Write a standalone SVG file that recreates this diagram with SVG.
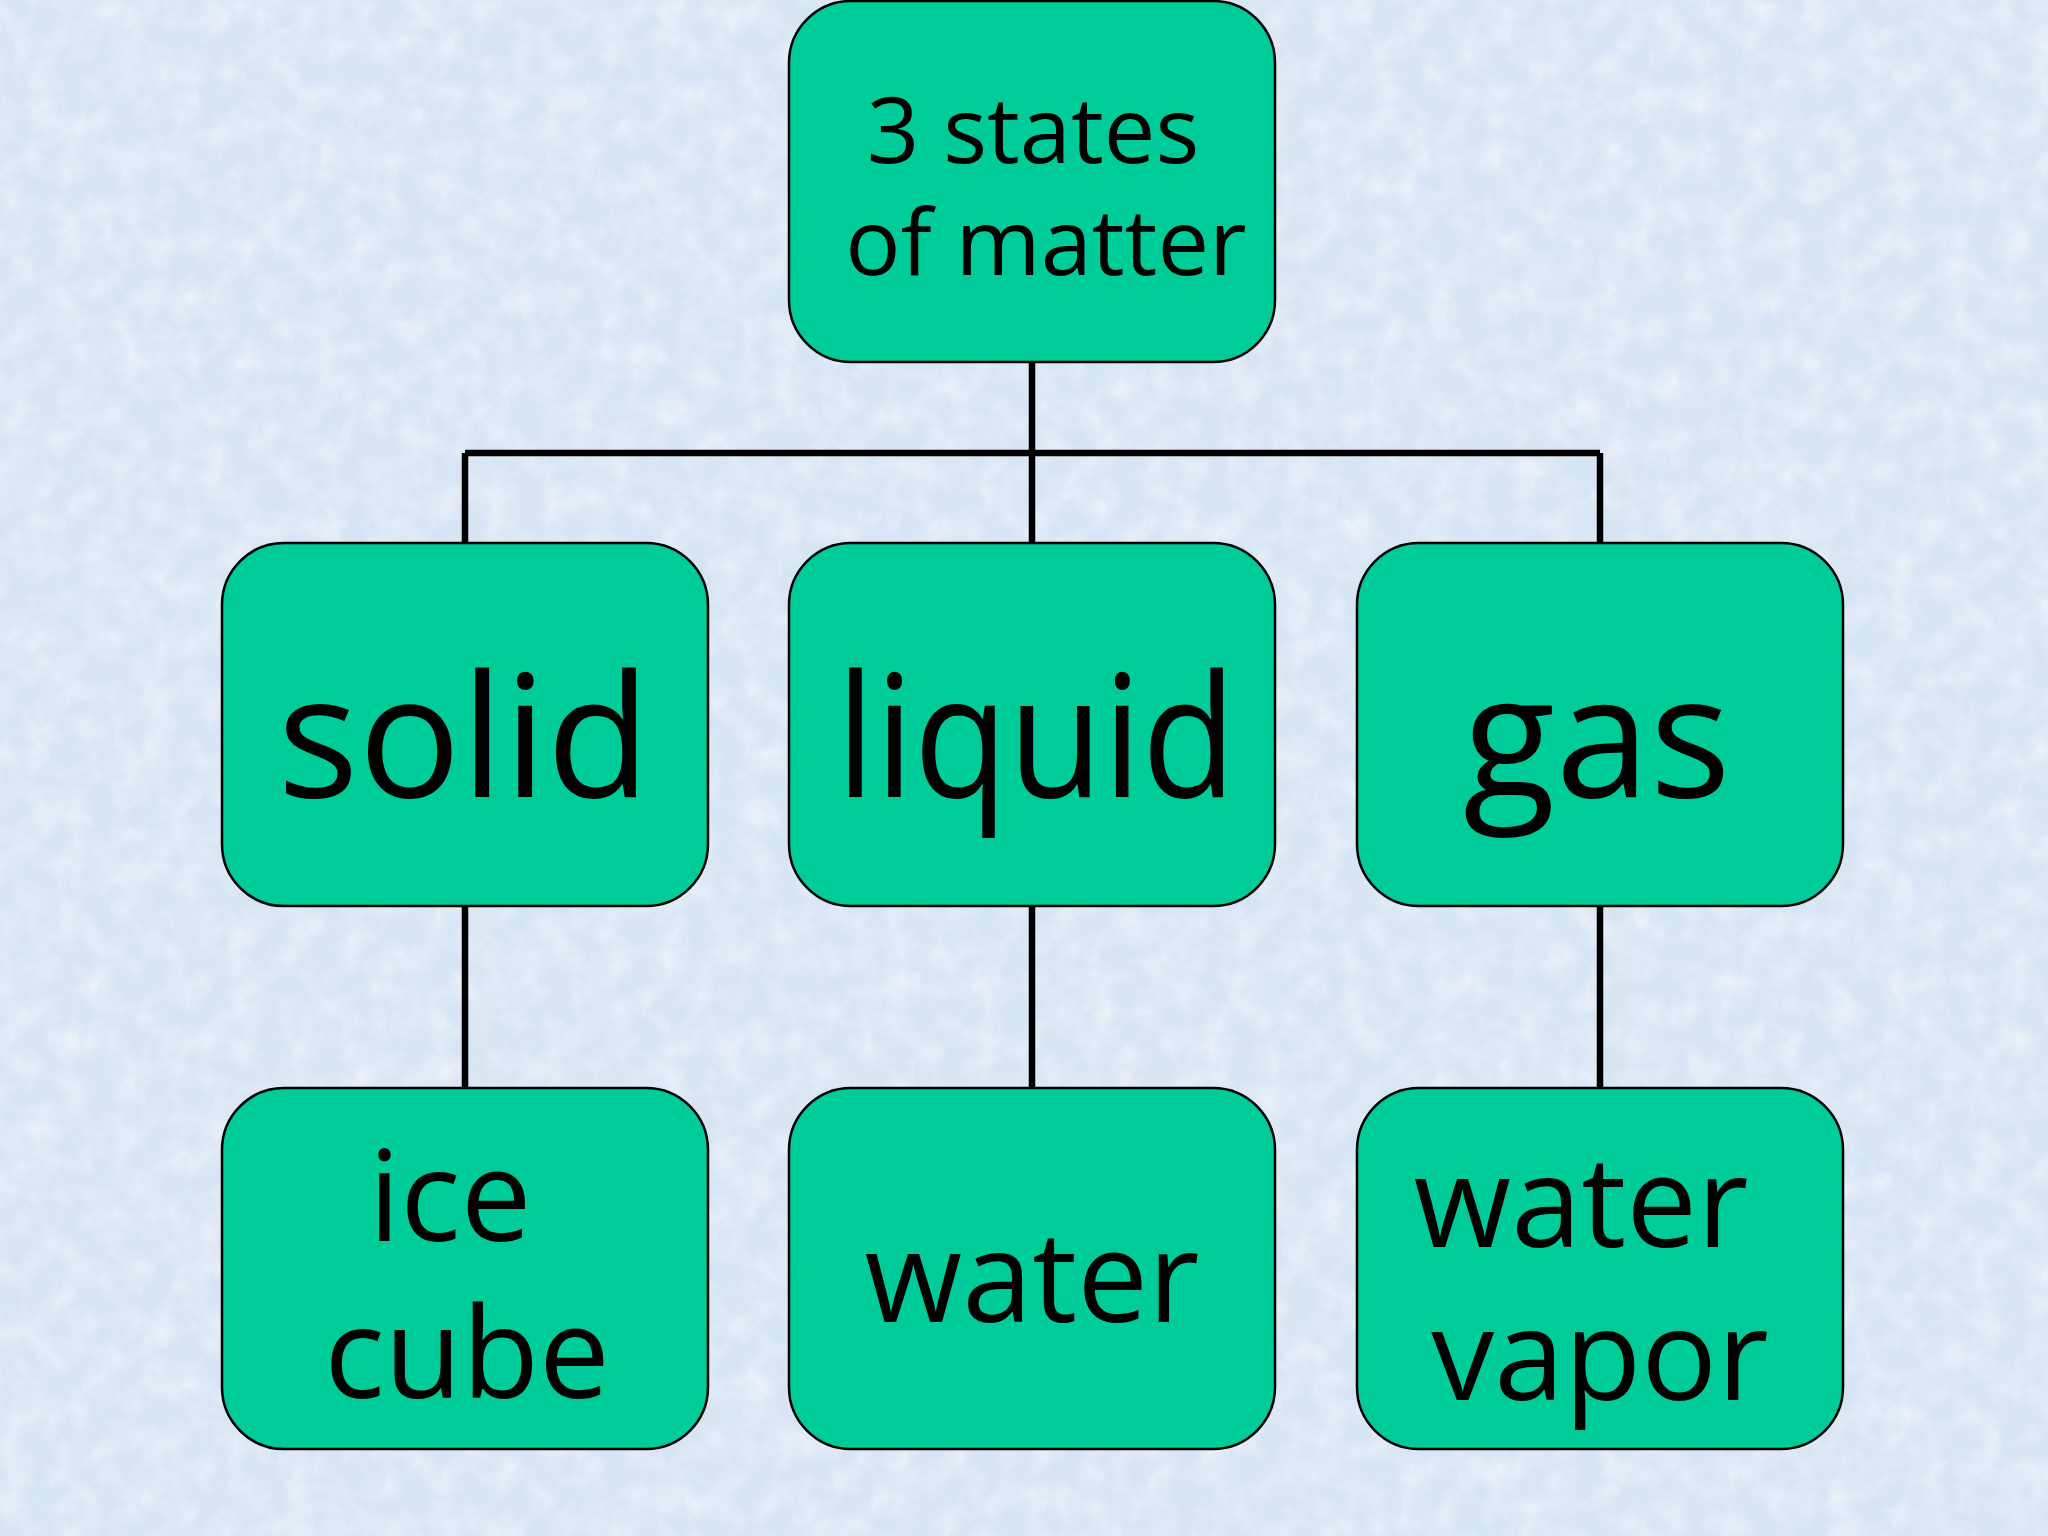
<svg xmlns="http://www.w3.org/2000/svg" width="2048" height="1536" viewBox="0 0 2048 1536">
  <defs>
    <filter id="tex" x="0" y="0" width="100%" height="100%">
      <feTurbulence type="fractalNoise" baseFrequency="0.035" numOctaves="4" seed="7" result="n"/>
      <feColorMatrix in="n" type="matrix" values="0 0 0 0 1  0 0 0 0 1  0 0 0 0 1  0 0 0 -1.6 1.05" result="w"/>
      <feComposite in="w" in2="SourceGraphic" operator="in"/>
    </filter>
    <style>
      .node rect { fill: #00CC99; stroke: #000000; stroke-width: 2.5; }
      .node text { font-family: "Open Sans", "DejaVu Sans", sans-serif; fill: #000000; text-anchor: middle; }
      .big { font-size: 170px; }
      .mid { font-size: 126px; }
      .top { font-size: 92px; }
      .conn { fill: none; stroke: #000000; stroke-width: 6.5; }
    </style>
  </defs>

  <rect x="0" y="0" width="2048" height="1536" fill="#D6E4F4"/>
  <rect x="0" y="0" width="2048" height="1536" fill="#D6E4F4" filter="url(#tex)" opacity="0.55"/>

  <g id="connectors">
    <path class="conn" d="M1032 362 V543"/>
    <path class="conn" d="M465 453 H1600"/>
    <path class="conn" d="M465 453 V543"/>
    <path class="conn" d="M1600 453 V543"/>
    <path class="conn" d="M465 906 V1088"/>
    <path class="conn" d="M1032 906 V1088"/>
    <path class="conn" d="M1600 906 V1088"/>
  </g>

  <g id="node-root" class="node">
    <rect x="789" y="1" width="486" height="361" rx="62" ry="62"/>
    <text class="top" x="1033" y="163">3 states</text>
    <text class="top" x="1046" y="275">of matter</text>
  </g>

  <g id="node-solid" class="node">
    <rect x="222" y="543" width="486" height="363" rx="62" ry="62"/>
    <text class="big" x="464" y="797">solid</text>
  </g>

  <g id="node-liquid" class="node">
    <rect x="789" y="543" width="486" height="363" rx="62" ry="62"/>
    <text class="big" x="1036" y="797" textLength="400" lengthAdjust="spacingAndGlyphs">liquid</text>
  </g>

  <g id="node-gas" class="node">
    <rect x="1357" y="543" width="486" height="363" rx="62" ry="62"/>
    <text class="big" x="1597" y="797">gas</text>
  </g>

  <g id="node-ice" class="node">
    <rect x="222" y="1088" width="486" height="361" rx="62" ry="62"/>
    <text class="mid" x="450" y="1241">ice</text>
    <text class="mid" x="467" y="1398">cube</text>
  </g>

  <g id="node-water" class="node">
    <rect x="789" y="1088" width="486" height="361" rx="62" ry="62"/>
    <text class="mid" x="1032" y="1322">water</text>
  </g>

  <g id="node-vapor" class="node">
    <rect x="1357" y="1088" width="486" height="361" rx="62" ry="62"/>
    <text class="mid" x="1581" y="1247">water</text>
    <text class="mid" x="1600" y="1400">vapor</text>
  </g>
</svg>
